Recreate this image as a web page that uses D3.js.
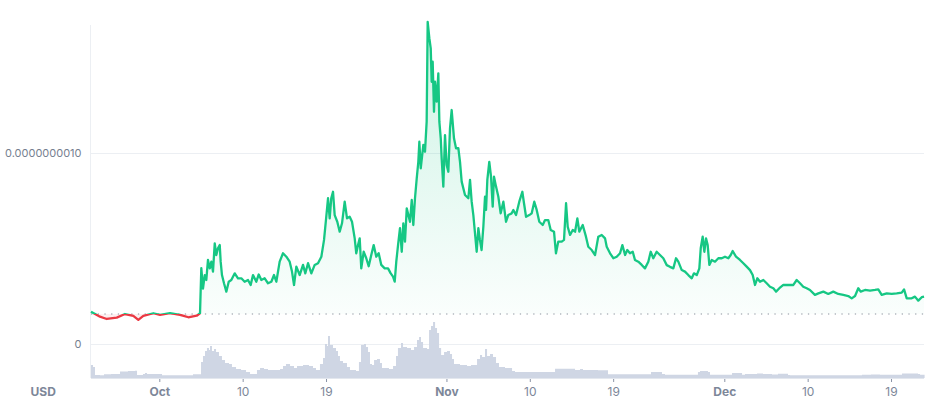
<!DOCTYPE html>
<html>
<head>
	<meta charset="utf-8">
	<title>Price chart</title>
	<style>
		body { margin: 0; background: #fff; font-family: Inter, "Noto Sans", sans-serif; }
		.y-label { fill: #76808f; font-size: 11px; }
		.x-axis text { fill: #7d8799; font-size: 12px; font-family: Inter, "Noto Sans", sans-serif; }
		.x-axis line { stroke: #8a93a6; }
		.x-axis .domain { display: none; }
	</style>
</head>
<body>
	<svg id="chart" width="930" height="399"></svg>
	<script src="https://cdn.jsdelivr.net/npm/d3@7"></script>
	<script>
		// prices are in units of 1e-9 USD, time is days since the first point
		var UNIT = 1e-9;
		var startDate = new Date(Date.UTC(2021, 8, 23, 15));
		var numDays = 90;
		var openPrice = 0.157;
		var yTicks = [0, 1];
		var xTicks = ["2021-10-01", "2021-10-10", "2021-10-19", "2021-11-01", "2021-11-10",
			"2021-11-19", "2021-12-01", "2021-12-10", "2021-12-19"];

		var price = [
			[0, 0.169], [0.97, 0.143], [1.70, 0.131], [2.78, 0.138], [3.67, 0.157], [4.57, 0.147],
			[5.11, 0.126], [5.65, 0.147], [6.73, 0.161], [7.45, 0.153], [8.53, 0.162], [9.61, 0.153],
			[10.51, 0.140], [11.41, 0.148], [11.77, 0.161],
			[11.91, 0.397], [12.09, 0.290], [12.28, 0.361], [12.45, 0.335], [12.63, 0.440], [12.82, 0.396],
			[12.99, 0.431], [13.17, 0.379], [13.36, 0.527], [13.53, 0.466], [13.71, 0.501], [13.90, 0.518],
			[14.00, 0.431], [14.14, 0.361], [14.36, 0.318], [14.61, 0.274], [14.87, 0.326], [15.15, 0.335],
			[15.52, 0.370], [15.87, 0.344], [16.23, 0.344], [16.59, 0.326], [16.95, 0.335], [17.24, 0.309],
			[17.49, 0.361], [17.85, 0.326], [18.11, 0.364], [18.39, 0.335], [18.75, 0.344], [19.11, 0.318],
			[19.47, 0.326], [19.76, 0.361], [20.01, 0.326], [20.37, 0.431], [20.73, 0.475], [21.09, 0.457],
			[21.45, 0.431], [21.70, 0.379], [21.92, 0.309], [22.17, 0.405], [22.53, 0.361], [22.89, 0.414],
			[23.14, 0.370], [23.43, 0.423], [23.79, 0.370], [24.15, 0.414], [24.51, 0.423], [24.87, 0.457],
			[25.16, 0.545], [25.40, 0.666], [25.59, 0.763], [25.77, 0.658], [25.94, 0.763], [26.13, 0.797],
			[26.31, 0.675], [26.59, 0.640], [26.85, 0.588], [27.10, 0.632], [27.39, 0.745], [27.64, 0.658],
			[27.93, 0.666], [28.18, 0.640], [28.47, 0.553], [28.64, 0.475], [28.83, 0.518], [29.01, 0.553],
			[29.18, 0.396], [29.44, 0.483], [29.72, 0.449], [29.98, 0.407], [30.26, 0.466], [30.52, 0.518],
			[30.80, 0.457], [31.06, 0.475], [31.34, 0.414], [31.71, 0.396], [32.07, 0.396], [32.36, 0.370],
			[32.61, 0.353], [32.79, 0.327], [32.96, 0.431], [33.15, 0.518],
			[33.36, 0.606], [33.55, 0.483], [33.72, 0.632], [33.90, 0.536], [34.09, 0.710], [34.44, 0.640],
			[34.63, 0.754], [34.80, 0.623], [34.98, 0.763], [35.17, 0.868], [35.34, 0.954], [35.45, 1.059],
			[35.60, 0.920], [35.88, 1.042], [36.06, 1.007], [36.24, 1.164], [36.35, 1.687], [36.53, 1.601],
			[36.68, 1.548], [36.78, 1.373], [36.89, 1.478], [37.03, 1.216], [37.14, 1.373], [37.32, 1.269],
			[37.50, 1.417], [37.61, 1.164], [37.76, 1.077], [37.86, 0.972], [38.04, 0.824], [38.22, 1.094],
			[38.40, 0.937], [38.58, 0.902], [38.76, 1.129], [38.94, 1.225], [39.19, 1.077], [39.41, 1.025],
			[39.66, 1.025], [39.84, 0.954], [40.02, 0.850], [40.38, 0.780], [40.74, 0.763], [40.92, 0.859],
			[41.10, 0.745], [41.28, 0.675], [41.64, 0.483], [41.82, 0.606],
			[41.99, 0.545], [42.17, 0.492], [42.36, 0.614], [42.54, 0.771], [42.65, 0.702], [42.79, 0.859],
			[43.00, 0.954], [43.19, 0.876], [43.37, 0.719], [43.51, 0.876], [43.73, 0.824], [43.98, 0.771],
			[44.23, 0.684], [44.52, 0.745], [44.81, 0.640], [45.05, 0.675], [45.42, 0.684], [45.60, 0.702],
			[45.89, 0.675], [46.24, 0.745], [46.57, 0.797], [46.75, 0.737], [46.97, 0.666], [47.32, 0.675],
			[47.58, 0.684], [47.86, 0.745], [48.12, 0.702], [48.40, 0.640], [48.77, 0.623], [49.02, 0.649],
			[49.37, 0.649], [49.63, 0.597], [49.99, 0.588], [50.20, 0.475], [50.45, 0.536], [50.82, 0.536],
			[51.07, 0.545], [51.29, 0.737], [51.47, 0.614], [51.72, 0.571], [52.01, 0.597], [52.26, 0.588],
			[52.51, 0.658], [52.72, 0.588], [53.09, 0.623], [53.44, 0.562], [53.69, 0.509], [54.06, 0.492],
			[54.42, 0.466], [54.77, 0.562], [55.14, 0.571], [55.50, 0.553], [55.68, 0.509], [56.04, 0.475],
			[56.39, 0.449], [56.76, 0.457], [57.12, 0.475], [57.37, 0.518], [57.66, 0.466], [57.90, 0.492],
			[58.19, 0.475], [58.49, 0.483], [58.73, 0.440], [59.09, 0.431], [59.46, 0.414], [59.81, 0.396],
			[60.17, 0.431], [60.43, 0.483], [60.71, 0.449], [61.07, 0.483], [61.43, 0.466],
			[61.79, 0.449], [62.16, 0.413], [62.51, 0.404], [62.87, 0.396], [63.16, 0.449], [63.41, 0.431],
			[63.78, 0.387], [64.13, 0.379], [64.49, 0.361], [64.86, 0.344], [65.10, 0.370], [65.40, 0.361],
			[65.68, 0.396], [65.83, 0.501], [66.04, 0.562], [66.22, 0.483], [66.40, 0.553], [66.58, 0.518],
			[66.76, 0.414], [67.02, 0.440], [67.37, 0.431], [67.73, 0.449], [68.10, 0.449], [68.45, 0.457],
			[68.81, 0.449], [69.07, 0.466], [69.28, 0.487], [69.64, 0.457], [70.07, 0.440], [70.43, 0.423],
			[70.79, 0.405], [71.15, 0.387], [71.44, 0.361], [71.69, 0.309], [71.94, 0.344], [72.23, 0.326],
			[72.59, 0.335], [72.95, 0.318], [73.31, 0.300], [73.67, 0.292], [73.96, 0.274], [74.32, 0.292],
			[74.75, 0.309], [75.29, 0.309], [75.83, 0.309], [76.19, 0.335], [76.55, 0.318], [76.90, 0.300],
			[77.27, 0.292], [77.62, 0.283], [78.16, 0.257], [78.53, 0.265], [79.07, 0.274], [79.60, 0.262],
			[80.14, 0.274], [80.68, 0.262], [81.22, 0.257], [81.76, 0.251], [82.13, 0.239], [82.49, 0.251],
			[82.84, 0.292], [83.10, 0.274], [83.57, 0.283], [84.11, 0.279], [84.65, 0.283], [85.00, 0.286],
			[85.37, 0.257], [85.91, 0.265], [86.45, 0.262], [86.99, 0.265], [87.53, 0.269], [87.78, 0.286],
			[88.07, 0.239], [88.61, 0.239], [88.96, 0.248], [89.32, 0.227], [89.69, 0.245], [89.94, 0.248]
		];

		// traded volume, relative units
		var volume = [
			[0, 13], [0.22, 11], [0.43, 3], [0.97, 2.7], [1.40, 3.7], [2.16, 4], [3.13, 6.5], [3.99, 7],
			[4.75, 7.3], [4.97, 3], [5.61, 4], [5.83, 5], [6.05, 4], [7.67, 2.7], [11.01, 3.7], [11.88, 16],
			[12.09, 22], [12.31, 27], [12.52, 30], [12.74, 28], [12.85, 32], [13.06, 27], [13.28, 29], [13.50, 26],
			[13.82, 22], [14.14, 18], [14.47, 15], [14.90, 14], [15.22, 11], [15.66, 9], [16.20, 8], [16.74, 6],
			[17.17, 4], [17.92, 8], [18.25, 10], [18.68, 9], [19.11, 8], [19.97, 8], [20.41, 9], [20.73, 12],
			[21.05, 14], [21.49, 12], [21.92, 10], [22.24, 12], [22.89, 13], [23.54, 12], [23.97, 10], [24.29, 8],
			[24.72, 14], [25.05, 20], [25.26, 34], [25.48, 32], [25.59, 42], [25.80, 33], [26.13, 30], [26.45, 27],
			[26.67, 22], [26.88, 17], [27.21, 15], [27.64, 11], [27.96, 8], [28.61, 7], [28.93, 16], [29.15, 33],
			[29.47, 34], [29.69, 31], [29.91, 26], [30.12, 14], [30.34, 13], [30.56, 18], [30.88, 19], [31.20, 15],
			[31.42, 10], [32.17, 9], [32.61, 12], [32.93, 22], [33.14, 30], [33.47, 35], [33.69, 31], [34.12, 30],
			[34.55, 28], [34.88, 31], [35.20, 38], [35.42, 41], [35.63, 36], [35.85, 30], [36.28, 29], [36.50, 48],
			[36.71, 52], [36.93, 56], [37.15, 50], [37.36, 45], [37.58, 30], [37.80, 23], [38.12, 26], [38.44, 27],
			[38.76, 24], [38.98, 19], [39.19, 14], [39.84, 13], [40.60, 12], [41.03, 13], [41.68, 19], [42.00, 23],
			[42.22, 21], [42.54, 29], [42.76, 22], [43.08, 24], [43.40, 21], [43.73, 15], [44.05, 11], [44.70, 10],
			[45.46, 7], [45.78, 6], [50.10, 9.3], [52.26, 8], [52.80, 9], [53.12, 8], [54.74, 7.7], [55.82, 3.7],
			[60.46, 6], [61.65, 4], [61.97, 3.3], [65.53, 6], [65.75, 7], [66.61, 6], [66.83, 3.3], [69.21, 5],
			[70.29, 3.3], [70.61, 4], [71.91, 4.5], [72.55, 4], [73.52, 3.5], [74.17, 4.3], [75.25, 3], [75.47, 2.7],
			[83.24, 3.3], [84.21, 3.5], [85.18, 3.3], [86.16, 3.2], [87.56, 4.5], [89.29, 4], [89.51, 3.3], [90, 3.3]
		];

		function dayToDate(d) {
			return new Date(startDate.getTime() + d * 864e5);
		}

		var svg = d3.select('#chart');
		var left = 91, right = 924;

		var x = d3.scaleUtc()
			.domain([startDate, dayToDate(numDays)])
			.range([left, 924.6]);
		var y = d3.scaleLinear().domain([0, 1]).range([344, 153]);
		var yVol = d3.scaleLinear().domain([0, 60]).range([378, 318]);
		var yOpen = y(openPrice);

		var defs = svg.append('defs');
		defs.append('clipPath').attr('id', 'clip-up')
			.append('rect').attr('x', 0).attr('y', 0).attr('width', 930).attr('height', yOpen);
		defs.append('clipPath').attr('id', 'clip-down')
			.append('rect').attr('x', 0).attr('y', yOpen).attr('width', 930).attr('height', 399 - yOpen);

		var grad = defs.append('linearGradient').attr('id', 'fill-up')
			.attr('gradientUnits', 'userSpaceOnUse')
			.attr('x1', 0).attr('x2', 0).attr('y1', 20).attr('y2', yOpen);
		grad.append('stop').attr('offset', 0).attr('stop-color', '#16c784').attr('stop-opacity', 0.22);
		grad.append('stop').attr('offset', 1).attr('stop-color', '#16c784').attr('stop-opacity', 0.02);

		// grid + frame
		svg.append('line')
			.attr('x1', 90.5).attr('x2', 90.5).attr('y1', 25).attr('y2', 378)
			.style('stroke', '#eceff3');
		svg.selectAll('.grid')
			.data(yTicks)
			.enter()
			.append('line')
			.attr('class', 'grid')
			.attr('x1', left).attr('x2', right)
			.attr('y1', function (d) { return Math.round(y(d)) + 0.5; })
			.attr('y2', function (d) { return Math.round(y(d)) + 0.5; })
			.style('stroke', '#eceff3');

		svg.selectAll('.y-label')
			.data(yTicks)
			.enter()
			.append('text')
			.attr('class', 'y-label')
			.attr('x', 81.5)
			.attr('y', function (d) { return y(d); })
			.attr('dy', '0.35em')
			.attr('text-anchor', 'end')
			.text(function (d) { return d === 0 ? '0' : d3.format('.10f')(d * UNIT); });

		// volume
		var volArea = d3.area()
			.curve(d3.curveStepAfter)
			.x(function (d) { return x(dayToDate(d[0])); })
			.y0(yVol(0))
			.y1(function (d) { return yVol(d[1]); });
		svg.append('path')
			.datum(volume)
			.attr('d', volArea)
			.style('fill', '#cfd6e4');

		svg.append('line')
			.attr('x1', left).attr('x2', right).attr('y1', 378.5).attr('y2', 378.5)
			.style('stroke', '#e3e7ee');

		// price area and line, green above the open price, red below
		var priceArea = d3.area()
			.x(function (d) { return x(dayToDate(d[0])); })
			.y0(yOpen)
			.y1(function (d) { return y(d[1]); });
		var priceLine = d3.line()
			.x(function (d) { return x(dayToDate(d[0])); })
			.y(function (d) { return y(d[1]); });

		svg.append('path').datum(price).attr('d', priceArea)
			.attr('clip-path', 'url(#clip-up)')
			.style('fill', 'url(#fill-up)');
		svg.append('path').datum(price).attr('d', priceArea)
			.attr('clip-path', 'url(#clip-down)')
			.style('fill', 'rgba(234,57,67,0.08)');

		svg.append('line')
			.attr('x1', left).attr('x2', right)
			.attr('y1', yOpen).attr('y2', yOpen)
			.style('stroke', '#8c939e')
			.style('stroke-width', 1)
			.style('stroke-dasharray', '1.3,5.4');

		svg.append('path').datum(price).attr('d', priceLine)
			.attr('clip-path', 'url(#clip-up)')
			.style('fill', 'none').style('stroke', '#16c784')
			.style('stroke-width', 2.3).style('stroke-linejoin', 'round');
		svg.append('path').datum(price).attr('d', priceLine)
			.attr('clip-path', 'url(#clip-down)')
			.style('fill', 'none').style('stroke', '#ea3943')
			.style('stroke-width', 2.3).style('stroke-linejoin', 'round');

		// x axis
		var tickDates = xTicks.map(function (s) { return new Date(s + 'T00:00:00Z'); });
		var xAxis = svg.append('g')
			.attr('class', 'x-axis')
			.attr('transform', 'translate(0,379)')
			.call(d3.axisBottom(x)
				.tickValues(tickDates)
				.tickSize(3)
				.tickFormat(function (d) {
					return d.getUTCDate() === 1 ? d3.utcFormat('%b')(d) : d3.utcFormat('%-d')(d);
				}));
		xAxis.selectAll('text')
			.attr('y', 17)
			.attr('dy', null)
			.style('font-weight', function (d) { return d.getUTCDate() === 1 ? 700 : 400; });

		svg.append('text')
			.attr('x', 30.5)
			.attr('y', 396)
			.style('fill', '#7d8799')
			.style('font-size', '12px')
			.style('font-weight', 700)
			.text('USD');
	</script>
</body>
</html>
